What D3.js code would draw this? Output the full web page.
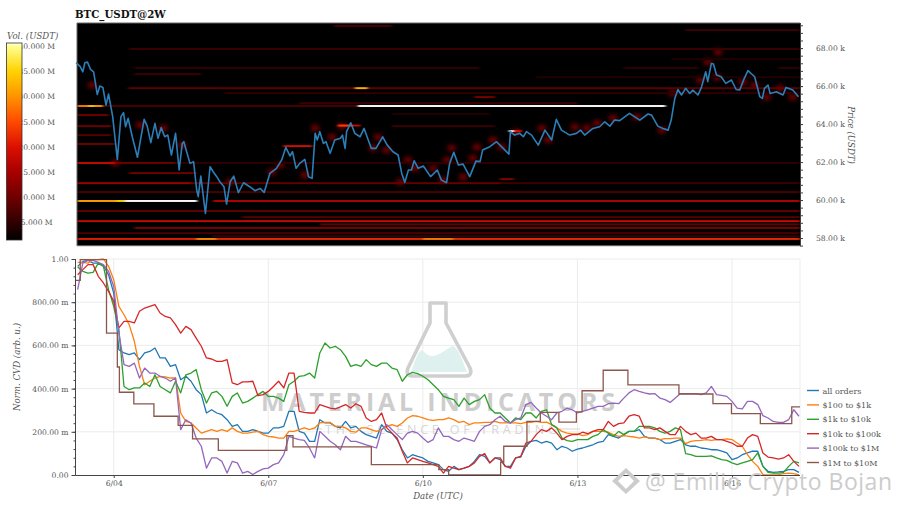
<!DOCTYPE html>
<html>
<head>
<meta charset="utf-8">
<title>BTC_USDT@2W</title>
<script src="https://d3js.org/d3.v7.min.js"></script>
<style>
  html, body { margin: 0; padding: 0; background: #fff; }
  svg { display: block; font-family: "DejaVu Serif", serif; }
  .axis text { fill: #555; font-size: 7.6px; font-family: "DejaVu Serif", serif; }
  .axis path, .axis line { stroke: #444; stroke-width: 1px; }
  .label { fill: #555; font-size: 8.6px; font-style: italic; }
</style>
</head>
<body>
<div id="chart"></div>
<script>
// colorbar
const volTicks = [5, 10, 15, 20, 25, 30, 35, 40];
const volStops = [1.5, 5, 10, 15, 20, 25, 30, 35, 40, 40.6];
const volColors = ["#000000", "#300000", "#700000", "#a80000", "#dc1000", "#ff4a00", "#ff9400", "#ffd200", "#ffff90", "#ffffff"];

// heat bands: price (k), from day, to day, volume (M)
const heatBands = [
  [69.16, 8.28, 9.40, 7], [68.95, 15.1, 17.32, 6], [67.95, 4.3, 17.32, 6], [67.42, 14.83, 17.32, 4],
  [66.95, 4.4, 11.1, 5], [66.95, 13.9, 15.35, 5], [66.95, 16.9, 17.32, 5], [66.63, 4.4, 5.7, 6],
  [66.47, 12.2, 17.32, 4], [65.1, 7.6, 13.0, 6], [64.53, 9.4, 11.3, 4],
  [65.89, 4.28, 17.32, 8.5], [65.63, 6.15, 17.32, 5], [65.42, 11.0, 11.4, 11],
  [64.95, 3.8, 8.74, 7], [64.47, 3.29, 3.9, 10], [63.89, 3.29, 3.95, 10], [63.89, 9.4, 11.4, 6],
  [63.42, 3.29, 3.95, 8], [62.95, 3.29, 4.03, 10], [62.84, 7.29, 7.85, 19],
  [61.95, 3.29, 4.03, 18], [61.95, 4.03, 5.2, 10], [61.95, 5.2, 17.32, 5],
  [61.42, 4.3, 5.6, 10], [61.1, 11.49, 11.77, 12], [60.89, 3.29, 5.5, 14], [60.89, 5.5, 11.5, 9], [60.89, 11.5, 17.32, 6],
  [60.42, 3.29, 17.32, 7], [59.95, 5.93, 17.32, 16], [59.42, 3.29, 17.32, 9], [59.1, 6.5, 17.32, 8],
  [58.89, 3.29, 17.32, 18], [58.72, 8.0, 17.32, 9], [58.53, 4.4, 17.32, 11], [58.26, 3.29, 17.32, 7], [58.1, 5.9, 17.32, 6],
  [57.95, 3.29, 5.6, 21], [57.95, 5.6, 6.0, 29], [57.95, 6.0, 10.0, 22], [57.95, 10.0, 10.6, 28], [57.95, 10.6, 17.32, 22],
  [63.92, 8.35, 8.79, 18], [63.92, 8.35, 8.62, 24],
  [65.89, 8.68, 8.93, 32], [64.95, 3.29, 3.5, 28], [64.95, 3.5, 3.65, 34], [64.95, 3.65, 3.79, 30],
  [59.95, 3.29, 4.03, 31], [59.95, 4.03, 4.22, 35], [59.95, 4.22, 5.62, 43],
  [64.95, 8.74, 14.71, 43], [63.63, 11.67, 11.77, 43], [63.63, 11.77, 11.92, 20]
];

// dim patches of volume next to the price
const haloDays = [3.58, 4.03, 4.51, 4.96, 5.33, 6.26, 7.07, 7.23, 7.91, 7.71, 8.24, 8.43, 9.13, 9.03, 9.30, 9.56, 9.71, 9.85, 10.20, 10.39, 10.56, 10.47, 10.78, 10.97, 11.05, 11.36, 11.53, 11.82, 12.31, 12.43, 12.95, 13.18, 13.38, 13.69, 14.15, 14.64, 14.85, 15.38, 15.53, 15.73, 15.71, 16.21, 16.44, 16.93, 17.18, 16.67];
const haloPrices = [66.05, 61.95, 63.95, 63.79, 62.89, 60.95, 61.47, 61.84, 63.79, 61.32, 63.32, 63.89, 63.32, 62.74, 62.63, 60.95, 62.11, 61.68, 61.68, 61.05, 62.74, 62.11, 61.21, 62.21, 62.79, 63.16, 62.79, 63.58, 63.79, 63.16, 63.84, 63.79, 64.05, 64.32, 64.37, 63.68, 65.63, 66.32, 67.26, 67.79, 66.47, 66.21, 66.05, 65.89, 65.42, 65.42];

// price line: day of June, price (k)
const priceDays = [3.27, 3.35, 3.40, 3.44, 3.49, 3.55, 3.61, 3.68, 3.73, 3.79, 3.85, 3.90, 3.98, 4.07, 4.14, 4.19, 4.23, 4.28, 4.36, 4.46, 4.59, 4.65, 4.72, 4.80, 4.86, 4.92, 4.99, 5.05, 5.12, 5.20, 5.27, 5.33, 5.36, 5.48, 5.55, 5.61, 5.64, 5.69, 5.78, 5.87, 5.93, 6.00, 6.06, 6.14, 6.19, 6.26, 6.33, 6.42, 6.52, 6.64, 6.74, 6.84, 6.92, 7.03, 7.16, 7.26, 7.34, 7.42, 7.47, 7.54, 7.61,
  7.71, 7.78, 7.85, 7.91, 7.95, 8.00, 8.07, 8.12, 8.20, 8.29, 8.40, 8.44, 8.49, 8.52, 8.60, 8.68, 8.78, 8.86, 8.94, 9.00, 9.09, 9.22, 9.31, 9.42, 9.52, 9.59, 9.65, 9.72, 9.78, 9.83, 9.91, 10.01, 10.15, 10.28, 10.36, 10.46, 10.52, 10.60, 10.69, 10.78, 10.91, 11.03, 11.11, 11.16, 11.30, 11.43, 11.56, 11.67, 11.70, 11.78, 11.88, 11.95, 12.01, 12.11, 12.24, 12.37, 12.50, 12.59, 12.69, 12.85, 12.98, 13.06, 13.14, 13.30, 13.43,
  13.53, 13.63, 13.72, 13.82, 14.01, 14.21, 14.37, 14.44, 14.56, 14.66, 14.76, 14.82, 14.89, 14.95, 15.02, 15.10, 15.18, 15.24, 15.34, 15.41, 15.49, 15.53, 15.60, 15.64, 15.70, 15.79, 15.88, 15.99, 16.08, 16.15, 16.23, 16.31, 16.44, 16.54, 16.59, 16.63, 16.70, 16.74, 16.86, 16.99, 17.05, 17.18, 17.29];
const priceValues = [67.23, 67.02, 66.75, 67.23, 67.26, 66.88, 66.75, 65.56, 66.00, 65.93, 65.00, 65.58, 64.39, 62.14, 64.39, 64.60, 63.86, 64.30, 63.33, 62.25, 64.25, 63.89, 63.02, 64.04, 63.25, 63.81, 63.33, 63.42, 62.37, 63.51, 61.58, 62.98, 63.07, 61.93, 62.02, 60.53, 60.18, 61.26, 59.30, 61.75, 61.49, 61.23, 60.96, 60.70, 59.79, 60.96, 61.26, 60.39, 60.91, 60.70, 60.49, 60.61, 60.40, 61.40, 61.67, 62.11, 62.77, 62.32, 62.54, 61.67, 61.93,
  62.14, 61.23, 61.14, 63.51, 63.16, 63.60, 62.98, 63.07, 62.46, 63.16, 63.25, 63.42, 62.72, 63.60, 64.07, 63.51, 63.33, 63.77, 63.16, 62.72, 62.72, 63.33, 62.89, 62.54, 62.37, 61.40, 60.93, 61.58, 61.58, 62.07, 61.67, 61.79, 61.23, 61.58, 61.05, 60.91, 61.93, 62.51, 61.84, 61.89, 61.23, 62.05, 62.02, 62.63, 62.81, 63.07, 62.72, 62.42, 63.60, 63.42, 63.51, 63.33, 63.60, 63.42, 62.89, 63.68, 63.16, 64.25, 63.68, 63.42, 63.51, 63.68, 63.42, 63.77, 63.86,
  64.12, 63.89, 64.21, 64.18, 64.56, 64.21, 64.53, 64.47, 63.89, 63.77, 63.68, 64.21, 65.35, 65.82, 65.53, 65.88, 65.61, 65.79, 65.53, 65.96, 66.75, 66.23, 67.19, 67.16, 66.58, 66.49, 66.14, 66.32, 65.82, 65.79, 66.35, 66.81, 66.49, 65.44, 65.35, 65.88, 66.05, 65.61, 65.70, 65.53, 65.93, 65.79, 65.44];
const priceTicks = [58, 60, 62, 64, 66, 68];

// CVD series in milli units, one value per 0.1 day starting at 6/03.3
const cvdStart = 3.3;
const cvdStep = 0.1;
const allOrders = [966, 989, 994, 981, 981, 969, 927,
  842, 580, 565, 557, 565, 534, 565, 572, 588, 542,
  542, 503, 511, 441, 457, 434, 395, 372, 287, 302,
  287, 279, 256, 225, 233, 202, 202, 210, 202, 194,
  194, 218, 218, 225, 295, 295, 202, 194, 156, 156,
  256, 241, 241, 225, 218, 248, 218, 225, 202, 187,
  179, 171, 233, 202, 194, 164, 117, 79, 94, 86,
  79, 63, 56, 48, 25, 17, 40, 25, 32, 40,
  63, 94, 86, 56, 79, 71, 40, 40, 79, 83,
  133, 156, 160, 148, 156, 148, 117, 133, 125, 110,
  120, 125, 133, 140, 151, 156, 187, 179, 171, 187,
  202, 202, 210, 179, 171, 171, 164, 148, 148, 156,
  164, 140, 133, 133, 125, 122, 117, 117, 110, 102,
  71, 79, 94, 102, 110, 110, 40, 17, 12, 14,
  17, 25, 25, 12];
const order100 = [984, 984, 981, 997, 997, 1000, 966,
  904, 781, 742, 696, 619, 503, 418, 434, 449, 457,
  454, 449, 449, 287, 248, 241, 218, 194, 202, 210,
  202, 210, 202, 218, 202, 194, 194, 198, 202, 187,
  179, 176, 171, 171, 202, 202, 210, 218, 210, 218,
  241, 244, 244, 225, 225, 218, 202, 198, 218, 218,
  210, 202, 210, 225, 233, 225, 241, 264, 275, 272,
  264, 256, 253, 256, 256, 264, 256, 244, 248, 233,
  241, 241, 244, 244, 248, 241, 241, 241, 241, 238,
  244, 244, 248, 244, 245, 233, 218, 202, 194, 190,
  190, 182, 187, 202, 202, 202, 198, 187, 179, 182,
  179, 176, 171, 176, 171, 171, 164, 168, 168, 171,
  171, 145, 156, 159, 160, 164, 160, 164, 164, 167,
  164, 148, 133, 94, 63, 40, 2, 0, 0, 2,
  6, 9, 6, 0];
const order1k = [963, 943, 935, 938, 981, 966, 858,
  781, 673, 410, 395, 403, 403, 426, 410, 464, 410,
  395, 380, 434, 380, 464, 472, 488, 395, 333, 380,
  387, 364, 318, 364, 380, 333, 341, 356, 372, 387,
  364, 364, 356, 341, 418, 434, 457, 460, 472, 449,
  565, 611, 588, 596, 580, 549, 503, 511, 503, 534,
  511, 503, 518, 518, 495, 488, 434, 464, 475, 469,
  457, 441, 418, 395, 364, 356, 349, 318, 356, 326,
  341, 349, 372, 310, 287, 287, 264, 241, 264, 256,
  287, 287, 264, 295, 302, 233, 218, 171, 159, 156,
  164, 164, 164, 179, 187, 210, 194, 179, 202, 187,
  202, 202, 225, 225, 225, 218, 202, 194, 202, 218,
  210, 99, 94, 86, 86, 86, 89, 79, 71, 68,
  56, 48, 56, 63, 71, 102, 40, 12, 9, 9,
  12, 40, 63, 56];
const order10k = [927, 951, 974, 974, 920, 889, 850,
  804, 681, 711, 711, 704, 758, 773, 781, 789, 750,
  734, 727, 696, 657, 688, 673, 634, 596, 542, 537,
  526, 526, 534, 426, 418, 431, 431, 434, 367, 372,
  387, 410, 434, 403, 472, 472, 295, 290, 287, 287,
  326, 318, 310, 306, 315, 326, 310, 330, 318, 264,
  248, 256, 287, 218, 194, 171, 110, 56, 79, 71,
  63, 56, 48, 40, 9, 40, 32, 25, 32, 40,
  56, 86, 99, 56, 79, 79, 40, 32, 79, 86,
  148, 156, 187, 210, 202, 218, 194, 164, 179, 187,
  187, 198, 191, 202, 210, 210, 248, 225, 238, 241,
  272, 279, 272, 218, 218, 210, 218, 202, 187, 187,
  225, 202, 187, 194, 171, 171, 179, 164, 164, 156,
  148, 133, 133, 171, 187, 179, 102, 83, 79, 74,
  79, 94, 63, 40];
const order100k = [858, 981, 994, 994, 984, 974, 943,
  873, 657, 511, 503, 518, 449, 495, 472, 472, 457,
  449, 434, 449, 210, 256, 241, 171, 133, 32, 79,
  79, 63, 9, 63, 56, 9, 17, 2, 17, 28,
  32, 48, 56, 94, 179, 171, 164, 160, 125, 79,
  202, 179, 156, 140, 117, 179, 156, 156, 148, 140,
  133, 125, 210, 233, 210, 187, 164, 194, 202, 194,
  171, 151, 164, 218, 179, 179, 164, 156, 171, 164,
  156, 202, 225, 233, 256, 272, 248, 241, 256, 264,
  326, 336, 310, 287, 272, 256, 287, 295, 310, 302,
  287, 295, 302, 310, 318, 318, 330, 333, 330, 356,
  380, 395, 387, 380, 375, 377, 356, 349, 336, 356,
  377, 377, 377, 377, 372, 380, 410, 372, 369, 364,
  341, 310, 306, 341, 341, 326, 275, 264, 248, 244,
  244, 256, 302, 272];
// $1M to $10M moves in steps
const order1mDays = [3.26, 3.35, 3.86, 4.07, 4.11, 4.39, 4.78, 5.25, 5.53, 6.03, 7.36, 7.48, 9.0, 10.31, 10.5, 11.51, 11.57, 12.02, 12.28, 12.64, 12.98, 13.09, 13.5, 13.98, 14.97, 15.63, 15.99, 16.55, 17.16, 17.32];
const order1mValues = [901, 997, 657, 500, 383, 329, 272, 230, 167, 114, 182, 130, 48, 25, 0, 60, 133, 248, 290, 245, 292, 390, 485, 417, 375, 330, 284, 238, 315, 315];
const cvdTicks = [0, 200, 400, 600, 800, 1000];

const legendNames = ["all orders", "$100 to $1k", "$1k to $10k", "$10k to $100k", "$100k to $1M", "$1M to $10M"];
const lineColors = ["#1f77b4", "#ff7f0e", "#2ca02c", "#d62728", "#9467bd", "#8c564b"];
const dateTicks = [4, 7, 10, 13, 16];

const svg = d3.select("#chart").append("svg").attr("width", 900).attr("height", 506);
const defs = svg.append("defs");

const x = d3.scaleLinear().domain([3.26, 17.32]).range([75.6, 800]);
const yPrice = d3.scaleLinear().domain([57.58, 69.32]).range([246, 23]);
const yCvd = d3.scaleLinear().domain([0, 1000]).range([475, 259]);
const yVol = d3.scaleLinear().domain([1.5, 40.6]).range([240, 43]);
const volColor = d3.scaleLinear().domain(volStops).range(volColors).clamp(true);

// ---- top panel
defs.append("clipPath").attr("id", "topClip").append("rect")
  .attr("x", 77).attr("y", 23).attr("width", 723).attr("height", 223);
defs.append("filter").attr("id", "smear")
  .attr("x", "-2%").attr("y", "-5%").attr("width", "104%").attr("height", "110%")
  .attr("color-interpolation-filters", "sRGB")
  .append("feGaussianBlur").attr("stdDeviation", "1.4 0.5");
defs.append("filter").attr("id", "haloBlur")
  .attr("x", "-2%").attr("y", "-5%").attr("width", "104%").attr("height", "110%")
  .attr("color-interpolation-filters", "sRGB")
  .append("feGaussianBlur").attr("stdDeviation", "2");

svg.append("rect").attr("x", 77).attr("y", 23).attr("width", 723).attr("height", 223).attr("fill", "#000");

const heatPanel = svg.append("g").attr("clip-path", "url(#topClip)");
heatPanel.append("g").attr("filter", "url(#haloBlur)")
  .selectAll("rect").data(haloDays).join("rect")
  .attr("x", d => x(d) - 4)
  .attr("width", 8)
  .attr("y", (d, i) => yPrice(haloPrices[i]) - 3)
  .attr("height", 6)
  .attr("fill", volColor(10));

heatPanel.append("g").attr("filter", "url(#smear)")
  .selectAll("rect").data(heatBands).join("rect")
  .attr("x", d => x(d[1]))
  .attr("width", d => x(d[2]) - x(d[1]))
  .attr("y", d => yPrice(d[0] + 0.05))
  .attr("height", d => yPrice(d[0] - 0.05) - yPrice(d[0] + 0.05))
  .attr("fill", d => volColor(d[3]));

svg.append("path")
  .attr("fill", "none").attr("stroke", "#2b7fb8").attr("stroke-width", 1.6).attr("stroke-linejoin", "round")
  .attr("d", d3.line().x(d => x(d)).y((d, i) => yPrice(priceValues[i]))(priceDays));

svg.append("path").attr("d", "M77,246V23H800").attr("fill", "none").attr("stroke", "#666");
svg.append("path").attr("d", "M77,246H800").attr("fill", "none").attr("stroke", "#bbb");

svg.append("g").attr("class", "axis").attr("transform", "translate(800,0)")
  .call(d3.axisRight(yPrice).tickValues(d3.range(57.6, 69.3, 0.4)).tickSize(3).tickFormat(""))
  .call(g => g.select(".domain").remove());
svg.append("g").attr("class", "axis").attr("transform", "translate(800,0)")
  .call(d3.axisRight(yPrice).tickValues(priceTicks).tickSize(3).tickPadding(13).tickFormat(d => d.toFixed(2) + " k"))
  .call(g => g.select(".domain").attr("d", "M0.5,23V246"));

svg.append("text").attr("x", 75).attr("y", 18).attr("font-size", 10.2).attr("font-weight", "bold").attr("fill", "#111").text("BTC_USDT@2W");
svg.append("text").attr("class", "label")
  .attr("transform", "translate(848,135) rotate(90)").attr("text-anchor", "middle").text("Price (USDT)");

// ---- colorbar
svg.append("text").attr("class", "label").attr("x", 7).attr("y", 39).text("Vol. (USDT)");
svg.append("g").attr("class", "axis")
  .call(d3.axisRight(yVol).tickValues(volTicks).tickSize(0).tickFormat(d => d.toFixed(3) + " M"))
  .call(g => g.select(".domain").remove())
  .call(g => g.selectAll("text").attr("x", 36.7).attr("text-anchor", "middle"));

const grad = defs.append("linearGradient").attr("id", "volGrad")
  .attr("x1", 0).attr("y1", 1).attr("x2", 0).attr("y2", 0);
grad.selectAll("stop").data(volStops).join("stop")
  .attr("offset", d => (d - volStops[0]) / (volStops[volStops.length - 1] - volStops[0]))
  .attr("stop-color", d => volColor(d));
svg.append("rect").attr("x", 6.5).attr("y", 43).attr("width", 15.5).attr("height", 197)
  .attr("fill", "url(#volGrad)").attr("stroke", "#333").attr("stroke-width", 0.8);

// ---- lower panel
const grid = svg.append("g").attr("stroke", "#ececec").attr("fill", "none");
grid.selectAll(".gy").data(cvdTicks.slice(1)).join("line")
  .attr("class", "gy")
  .attr("x1", x.range()[0]).attr("x2", 800).attr("y1", d => yCvd(d)).attr("y2", d => yCvd(d));
grid.selectAll(".gx").data(dateTicks).join("line")
  .attr("class", "gx")
  .attr("x1", d => x(d)).attr("x2", d => x(d)).attr("y1", 259).attr("y2", 475);
grid.append("line").attr("x1", 800).attr("x2", 800).attr("y1", 259).attr("y2", 475);

// watermark, sits under the lines
const mark = svg.append("g");
mark.append("path")
  .attr("d", "M411,372 C417,355 420,347 424,352 C432,360 438,355 452,346 C458,346 463,362 467,372 Z")
  .attr("fill", "#dff1ee");
mark.append("path")
  .attr("d", "M430,303H446V323L470,368Q473,376 465,376H413Q405,376 408,368L430,323Z")
  .attr("fill", "none").attr("stroke", "#cfcfcf").attr("stroke-width", 3.6).attr("stroke-linejoin", "round");
mark.append("text").attr("x", 438).attr("y", 411).attr("text-anchor", "middle")
  .attr("font-family", "'Open Sans', sans-serif").attr("font-weight", 700).attr("font-size", 25)
  .attr("textLength", 354).attr("fill", "#cdcdcd").text("MATERIAL INDICATORS");
mark.append("text").attr("x", 441).attr("y", 434).attr("text-anchor", "middle")
  .attr("font-family", "'Open Sans', sans-serif").attr("font-size", 12.5)
  .attr("textLength", 232).attr("fill", "#d6d6d6").text("THE SCIENCE OF TRADING");
mark.append("path").attr("d", "M312,429H322M560,429H580").attr("stroke", "#d6d6d6").attr("stroke-width", 1.2);

const cvdSeries = [allOrders, order100, order1k, order10k, order100k];
const cvdLine = d3.line().x((d, i) => x(cvdStart + i * cvdStep)).y(d => yCvd(d));
cvdSeries.forEach((s, i) => {
  svg.append("path").attr("d", cvdLine(s))
    .attr("fill", "none").attr("stroke", lineColors[i]).attr("stroke-width", 1.3).attr("stroke-linejoin", "round");
});
svg.append("path")
  .attr("d", d3.line().curve(d3.curveStepAfter).x(d => x(d)).y((d, i) => yCvd(order1mValues[i]))(order1mDays))
  .attr("fill", "none").attr("stroke", lineColors[5]).attr("stroke-width", 1.3);

svg.append("g").attr("class", "axis").attr("transform", "translate(75.5,0)")
  .call(d3.axisLeft(yCvd).tickValues(d3.range(0, 1001, 40)).tickSize(2).tickFormat(""))
  .call(g => g.select(".domain").remove());
svg.append("g").attr("class", "axis").attr("transform", "translate(75.5,0)")
  .call(d3.axisLeft(yCvd).tickValues(cvdTicks).tickSize(4).tickPadding(3)
    .tickFormat(d => d === 0 ? "0.00" : d === 1000 ? "1.00" : d.toFixed(2) + " m"))
  .call(g => g.select(".domain").attr("d", "M0,259V475"));
svg.append("g").attr("class", "axis").attr("transform", "translate(0,475)")
  .call(d3.axisBottom(x).tickValues(dateTicks).tickSize(3).tickPadding(3).tickFormat(d => "6/" + String(d).padStart(2, "0")))
  .call(g => g.select(".domain").attr("d", "M75.5,0.5H800"));

svg.append("text").attr("class", "label")
  .attr("transform", "translate(20,367) rotate(-90)").attr("text-anchor", "middle").text("Norm. CVD (arb. u.)");
svg.append("text").attr("class", "label").attr("x", 438).attr("y", 499).attr("text-anchor", "middle").text("Date (UTC)");

// legend
const legend = svg.append("g").attr("transform", "translate(801,380)");
legend.append("rect").attr("width", 87).attr("height", 93).attr("fill", "#fff").attr("fill-opacity", 0.85);
const rows = legend.selectAll("g").data(legendNames).join("g")
  .attr("transform", (d, i) => `translate(0,${10.5 + i * 14.4})`);
rows.append("line").attr("x1", 6).attr("x2", 18).attr("stroke", (d, i) => lineColors[i]).attr("stroke-width", 1.4);
rows.append("text").attr("x", 21.5).attr("dy", 3).attr("font-size", 8).attr("fill", "#555").text(d => d);

// credit in the corner
const credit = svg.append("g").attr("fill", "#cccccc");
credit.append("path")
  .attr("d", "M626,468L640,481L626,494L612,481ZM626,473L634,481L626,489L618,481Z")
  .attr("fill-rule", "evenodd");
credit.append("text").attr("x", 645).attr("y", 490).attr("font-family", "'Open Sans', sans-serif")
  .attr("font-size", 23).attr("textLength", 247).text("@ Emilio Crypto Bojan");
</script>
</body>
</html>
